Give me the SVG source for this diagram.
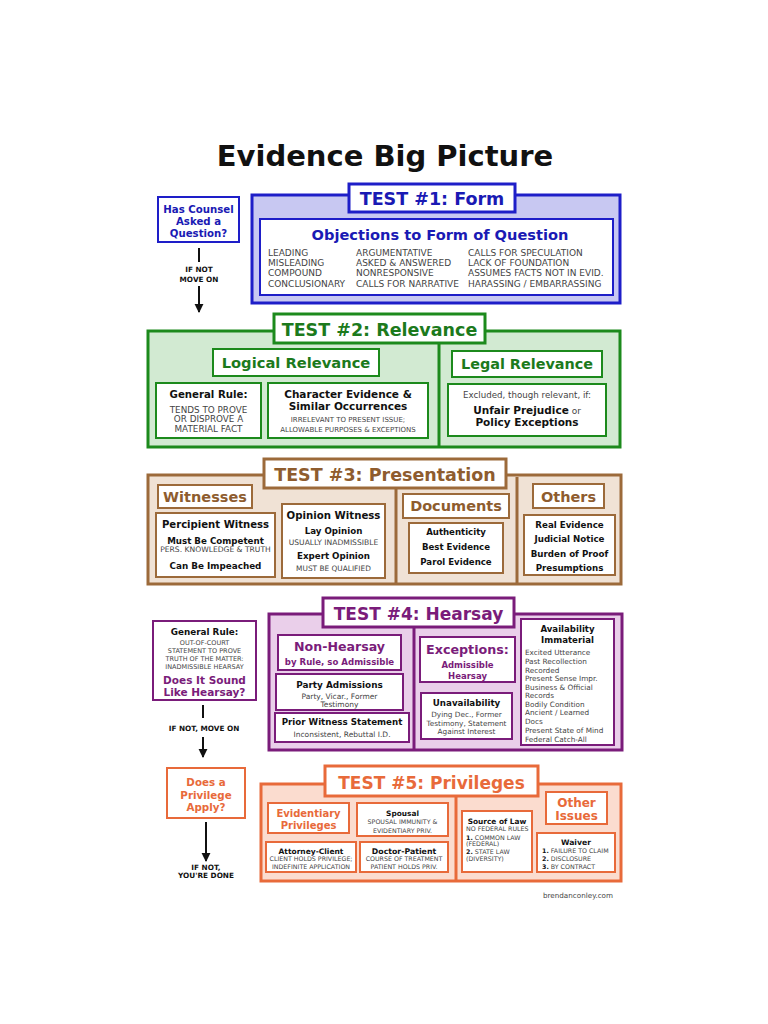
<svg xmlns="http://www.w3.org/2000/svg" width="768" height="1024" viewBox="0 0 768 1024">
<style>
text{font-family:"DejaVu Sans",Verdana,sans-serif;fill:#111}
.b{font-weight:bold}
.c{text-anchor:middle}
.sm{fill:#444}
.w{fill:#fff}
.bl{stroke:#1e1ec8}
.gr{stroke:#1c8a1c}
.br{stroke:#9c6a3a}
.pu{stroke:#7a1c7a}
.or{stroke:#e86a3a}
.s2{stroke-width:2}
.s3{stroke-width:3}
.tb{fill:#1a1ab4}
.tg{fill:#1c7a1c}
.tr{fill:#8e5c2e}
.tp{fill:#7a1c7a}
.to{fill:#e86a3a}
.con{stroke:#111;stroke-width:2;fill:none}
</style>
<defs>
<marker id="ah" viewBox="0 0 10 10" refX="9" refY="5" markerWidth="9" markerHeight="11" markerUnits="userSpaceOnUse" orient="auto">
<path d="M0,0 L10,5 L0,10 Z" fill="#111"/>
</marker>
</defs>
<rect width="768" height="1024" fill="#fff"/>
<text x="385" y="166" class="b c" font-size="29">Evidence Big Picture</text>

<g id="connectors">
<line class="con" x1="199" y1="248" x2="199" y2="262"/>
<line class="con" x1="199" y1="286" x2="199" y2="312" marker-end="url(#ah)"/>
<line class="con" x1="203" y1="705" x2="203" y2="718"/>
<line class="con" x1="203" y1="737" x2="203" y2="757" marker-end="url(#ah)"/>
<line class="con" x1="206" y1="822" x2="206" y2="861" marker-end="url(#ah)"/>
<text x="199" y="272" class="b c" font-size="7.3">IF NOT</text>
<text x="199" y="281.5" class="b c" font-size="7.3">MOVE ON</text>
<text x="204" y="731" class="b c" font-size="7.3">IF NOT, MOVE ON</text>
<text x="206" y="870" class="b c" font-size="7.3">IF NOT,</text>
<text x="206" y="877.5" class="b c" font-size="7.3">YOU'RE DONE</text>
</g>

<g id="q-counsel">
<rect x="158" y="197" width="81" height="45" class="w bl s2"/>
<text x="198.5" y="213" class="b c tb" font-size="10.2">Has Counsel</text>
<text x="198.5" y="225" class="b c tb" font-size="10.2">Asked a</text>
<text x="198.5" y="236.5" class="b c tb" font-size="10.2">Question?</text>
</g>

<g id="test1">
<rect x="252" y="195" width="368" height="108" fill="#c8c8f2" class="bl s3"/>
<rect x="349" y="184" width="166" height="28" class="w bl s3"/>
<text x="432" y="205" class="b c tb" font-size="17.5">TEST #1: Form</text>
<rect x="260" y="219" width="353" height="76" class="w bl s2"/>
<text x="440" y="239.5" class="b c tb" font-size="14.6">Objections to Form of Question</text>
<g font-size="9">
<text x="268" y="256" class="sm">LEADING</text>
<text x="268" y="266" class="sm">MISLEADING</text>
<text x="268" y="276" class="sm">COMPOUND</text>
<text x="268" y="286.5" class="sm">CONCLUSIONARY</text>
<text x="356" y="256" class="sm">ARGUMENTATIVE</text>
<text x="356" y="266" class="sm">ASKED &amp; ANSWERED</text>
<text x="356" y="276" class="sm">NONRESPONSIVE</text>
<text x="356" y="286.5" class="sm">CALLS FOR NARRATIVE</text>
<text x="468" y="256" class="sm">CALLS FOR SPECULATION</text>
<text x="468" y="266" class="sm">LACK OF FOUNDATION</text>
<text x="468" y="276" class="sm">ASSUMES FACTS NOT IN EVID.</text>
<text x="468" y="286.5" class="sm">HARASSING / EMBARRASSING</text>
</g>
</g>

<g id="test2">
<rect x="148" y="331" width="472" height="116" fill="#d2ead2" class="gr s3"/>
<line x1="439" y1="343" x2="439" y2="447" class="gr s3"/>
<rect x="274" y="314" width="211" height="29" class="w gr s3"/>
<text x="379.5" y="336" class="b c tg" font-size="17.5">TEST #2: Relevance</text>
<rect x="213" y="349" width="166" height="27" class="w gr s2"/>
<text x="296" y="368" class="b c tg" font-size="14.7">Logical Relevance</text>
<rect x="452" y="351" width="150" height="26" class="w gr s2"/>
<text x="527" y="369" class="b c tg" font-size="14.4">Legal Relevance</text>
<rect x="156" y="383" width="105" height="55" class="w gr s2"/>
<text x="208.5" y="398" class="b c" font-size="10.2">General Rule:</text>
<text x="208.5" y="412.5" class="c sm" font-size="8.8">TENDS TO PROVE</text>
<text x="208.5" y="422" class="c sm" font-size="8.8">OR DISPROVE A</text>
<text x="208.5" y="431.5" class="c sm" font-size="8.8">MATERIAL FACT</text>
<rect x="268" y="383" width="160" height="55" class="w gr s2"/>
<text x="348" y="398" class="b c" font-size="10.5">Character Evidence &amp;</text>
<text x="348" y="409.5" class="b c" font-size="10.5">Similar Occurrences</text>
<text x="348" y="422" class="c sm" font-size="7">IRRELEVANT TO PRESENT ISSUE;</text>
<text x="348" y="432" class="c sm" font-size="7">ALLOWABLE PURPOSES &amp; EXCEPTIONS</text>
<rect x="448" y="384" width="158" height="52" class="w gr s2"/>
<text x="527" y="398" class="c sm" font-size="8.7">Excluded, though relevant, if:</text>
<text x="527" y="413.5" class="b c" font-size="10.5">Unfair Prejudice<tspan font-weight="normal" font-size="9" class="sm"> or</tspan></text>
<text x="527" y="425.5" class="b c" font-size="10.5">Policy Exceptions</text>
</g>

<g id="test3">
<rect x="148" y="475" width="473" height="109" fill="#f0e2d5" class="br s3"/>
<line x1="396" y1="488" x2="396" y2="584" class="br s3"/>
<line x1="517" y1="477" x2="517" y2="584" class="br s3"/>
<rect x="264" y="459" width="242" height="29" class="w br s3"/>
<text x="385" y="481" class="b c tr" font-size="17.5">TEST #3: Presentation</text>
<rect x="158" y="485" width="94" height="23" class="w br s2"/>
<text x="205" y="501.5" class="b c tr" font-size="14.5">Witnesses</text>
<rect x="156" y="513" width="119" height="64" class="w br s2"/>
<text x="215.5" y="528" class="b c" font-size="10.1">Percipient Witness</text>
<text x="215.5" y="543.5" class="b c" font-size="8.7">Must Be Competent</text>
<text x="215.5" y="552" class="c sm" font-size="7.6">PERS. KNOWLEDGE &amp; TRUTH</text>
<text x="215.5" y="569" class="b c" font-size="8.8">Can Be Impeached</text>
<rect x="282" y="504" width="103" height="74" class="w br s2"/>
<text x="333.5" y="519" class="b c" font-size="10.2">Opinion Witness</text>
<text x="333.5" y="534" class="b c" font-size="8.7">Lay Opinion</text>
<text x="333.5" y="545" class="c sm" font-size="7.6">USUALLY INADMISSIBLE</text>
<text x="333.5" y="559" class="b c" font-size="8.7">Expert Opinion</text>
<text x="333.5" y="570.5" class="c sm" font-size="7.4">MUST BE QUALIFIED</text>
<rect x="403" y="494" width="106" height="24" class="w br s2"/>
<text x="456" y="511" class="b c tr" font-size="14.5">Documents</text>
<rect x="409" y="523" width="94" height="50" class="w br s2"/>
<text x="456" y="535" class="b c" font-size="8.6">Authenticity</text>
<text x="456" y="550" class="b c" font-size="8.6">Best Evidence</text>
<text x="456" y="565" class="b c" font-size="8.6">Parol Evidence</text>
<rect x="533" y="484" width="71" height="24" class="w br s2"/>
<text x="568.5" y="502" class="b c tr" font-size="14.5">Others</text>
<rect x="524" y="515" width="91" height="60" class="w br s2"/>
<text x="569.5" y="527.5" class="b c" font-size="8.7">Real Evidence</text>
<text x="569.5" y="542" class="b c" font-size="8.7">Judicial Notice</text>
<text x="569.5" y="556.5" class="b c" font-size="8.7">Burden of Proof</text>
<text x="569.5" y="571" class="b c" font-size="8.7">Presumptions</text>
</g>

<g id="hearsay-rule">
<rect x="153" y="621" width="103" height="79" class="w pu s2"/>
<text x="204.5" y="635" class="b c" font-size="8.8">General Rule:</text>
<text x="204.5" y="644.5" class="c sm" font-size="6.5">OUT-OF-COURT</text>
<text x="204.5" y="653" class="c sm" font-size="6.5">STATEMENT TO PROVE</text>
<text x="204.5" y="661" class="c sm" font-size="6.5">TRUTH OF THE MATTER:</text>
<text x="204.5" y="669" class="c sm" font-size="6.5">INADMISSIBLE HEARSAY</text>
<text x="204.5" y="684" class="b c tp" font-size="10.5">Does It Sound</text>
<text x="204.5" y="696" class="b c tp" font-size="10.5">Like Hearsay?</text>
</g>

<g id="test4">
<rect x="269" y="614" width="353" height="136" fill="#eacfea" class="pu s3"/>
<line x1="414" y1="627" x2="414" y2="750" class="pu s3"/>
<rect x="323" y="598" width="191" height="29" class="w pu s3"/>
<text x="418.5" y="620" class="b c tp" font-size="17">TEST #4: Hearsay</text>
<rect x="278" y="635" width="123" height="35" class="w pu s2"/>
<text x="339.5" y="651" class="b c tp" font-size="12.6">Non-Hearsay</text>
<text x="339.5" y="665" class="b c tp" font-size="8.6">by Rule, so Admissible</text>
<rect x="276" y="674" width="127" height="36" class="w pu s2"/>
<text x="339.5" y="688" class="b c" font-size="8.9">Party Admissions</text>
<text x="339.5" y="699" class="c sm" font-size="7.5">Party, Vicar., Former</text>
<text x="339.5" y="707" class="c sm" font-size="7.5">Testimony</text>
<rect x="275" y="713" width="134" height="29" class="w pu s2"/>
<text x="342" y="725" class="b c" font-size="8.7">Prior Witness Statement</text>
<text x="342" y="736.5" class="c sm" font-size="7.5">Inconsistent, Rebuttal I.D.</text>
<rect x="420" y="637" width="95" height="45" class="w pu s2"/>
<text x="467.5" y="654" class="b c tp" font-size="12.7">Exceptions:</text>
<text x="467.5" y="667.5" class="b c tp" font-size="8.5">Admissible</text>
<text x="467.5" y="678.5" class="b c tp" font-size="8.5">Hearsay</text>
<rect x="421" y="693" width="91" height="46" class="w pu s2"/>
<text x="466.5" y="705.5" class="b c" font-size="8.7">Unavailability</text>
<text x="466.5" y="717" class="c sm" font-size="7.3">Dying Dec., Former</text>
<text x="466.5" y="725.5" class="c sm" font-size="7.3">Testimony, Statement</text>
<text x="466.5" y="734" class="c sm" font-size="7.3">Against Interest</text>
<rect x="521" y="619" width="93" height="126" class="w pu s2"/>
<text x="567.5" y="632" class="b c" font-size="8.6">Availability</text>
<text x="567.5" y="643" class="b c" font-size="8.6">Immaterial</text>
<g font-size="7.3">
<text x="525" y="655" class="sm">Excited Utterance</text>
<text x="525" y="664" class="sm">Past Recollection</text>
<text x="525" y="672.5" class="sm">Recorded</text>
<text x="525" y="681" class="sm">Present Sense Impr.</text>
<text x="525" y="689.5" class="sm">Business &amp; Official</text>
<text x="525" y="698" class="sm">Records</text>
<text x="525" y="706.5" class="sm">Bodily Condition</text>
<text x="525" y="715" class="sm">Ancient / Learned</text>
<text x="525" y="724" class="sm">Docs</text>
<text x="525" y="733" class="sm">Present State of Mind</text>
<text x="525" y="741.5" class="sm">Federal Catch-All</text>
</g>
</g>

<g id="q-privilege">
<rect x="167" y="768" width="78" height="50" class="w or s2"/>
<text x="206" y="785.5" class="b c to" font-size="10.3">Does a</text>
<text x="206" y="798.5" class="b c to" font-size="10.3">Privilege</text>
<text x="206" y="811" class="b c to" font-size="10.3">Apply?</text>
</g>

<g id="test5">
<rect x="261" y="784" width="360" height="97" fill="#fbdccf" class="or s3"/>
<line x1="456" y1="796" x2="456" y2="881" class="or s3"/>
<rect x="325" y="766" width="213" height="30" class="w or s3"/>
<text x="431.5" y="788.5" class="b c to" font-size="17">TEST #5: Privileges</text>
<rect x="268" y="803" width="81" height="30" class="w or s2"/>
<text x="308.5" y="817" class="b c to" font-size="10">Evidentiary</text>
<text x="308.5" y="829" class="b c to" font-size="10">Privileges</text>
<rect x="357" y="803" width="91" height="33" class="w or s2"/>
<text x="402.5" y="815.5" class="b c" font-size="7.4">Spousal</text>
<text x="402.5" y="824" class="c sm" font-size="6.3">SPOUSAL IMMUNITY &amp;</text>
<text x="402.5" y="832.5" class="c sm" font-size="6.3">EVIDENTIARY PRIV.</text>
<rect x="266" y="842" width="90" height="30" class="w or s2"/>
<text x="311" y="853.5" class="b c" font-size="7.5">Attorney-Client</text>
<text x="311" y="861" class="c sm" font-size="6.3">CLIENT HOLDS PRIVILEGE;</text>
<text x="311" y="868.5" class="c sm" font-size="6.3">INDEFINITE APPLICATION</text>
<rect x="360" y="842" width="88" height="30" class="w or s2"/>
<text x="404" y="853.5" class="b c" font-size="7.8">Doctor-Patient</text>
<text x="404" y="861" class="c sm" font-size="6.3">COURSE OF TREATMENT</text>
<text x="404" y="868.5" class="c sm" font-size="6.3">PATIENT HOLDS PRIV.</text>
<rect x="462" y="811" width="70" height="61" class="w or s2"/>
<text x="497" y="823.5" class="b c" font-size="7.4">Source of Law</text>
<text x="466" y="831" class="sm" font-size="6.3">NO FEDERAL RULES</text>
<text x="466" y="839.5" class="sm" font-size="6.3"><tspan font-weight="bold" fill="#111">1.</tspan> COMMON LAW</text>
<text x="466" y="846" class="sm" font-size="6.3">(FEDERAL)</text>
<text x="466" y="853.5" class="sm" font-size="6.3"><tspan font-weight="bold" fill="#111">2.</tspan> STATE LAW</text>
<text x="466" y="860.5" class="sm" font-size="6.3">(DIVERSITY)</text>
<rect x="546" y="792" width="61" height="32" class="w or s2"/>
<text x="576.5" y="806.5" class="b c to" font-size="12">Other</text>
<text x="576.5" y="819.5" class="b c to" font-size="12">Issues</text>
<rect x="537" y="833" width="78" height="39" class="w or s2"/>
<text x="576" y="844.5" class="b c" font-size="7.7">Waiver</text>
<text x="542" y="852.5" class="sm" font-size="6.3"><tspan font-weight="bold" fill="#111">1.</tspan> FAILURE TO CLAIM</text>
<text x="542" y="860.5" class="sm" font-size="6.3"><tspan font-weight="bold" fill="#111">2.</tspan> DISCLOSURE</text>
<text x="542" y="868.5" class="sm" font-size="6.3"><tspan font-weight="bold" fill="#111">3.</tspan> BY CONTRACT</text>
</g>

<text x="578" y="898" class="c sm" font-size="7.2">brendanconley.com</text>
</svg>
